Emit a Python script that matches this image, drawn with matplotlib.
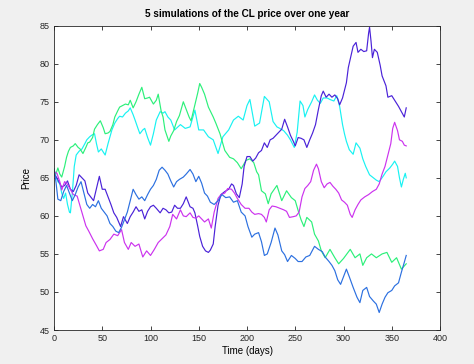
import matplotlib.pyplot as plt

plt.rcParams['font.family'] = ['Liberation Sans', 'DejaVu Sans']

# simulated CL price paths, (day, price)
green_t = [0, 2, 4, 6, 8, 11, 13, 15, 17, 20,
           22, 25, 27, 30, 33, 35, 37, 40, 42, 45,
           48, 51, 53, 56, 58, 61, 63, 66, 68, 71,
           74, 77, 79, 82, 85, 88, 91, 94, 97, 99,
           103, 106, 108, 111, 113, 115, 119, 121, 124, 127,
           130, 134, 137, 140, 142, 146, 149, 151, 153, 156,
           160, 165, 168, 172, 177, 182, 186, 190, 194, 199,
           203, 207, 210, 212, 215, 219, 222, 225, 231, 236,
           241, 246, 250, 253, 256, 259, 262, 267, 270, 274,
           277, 281, 286, 291, 295, 300, 307, 312, 317, 320,
           324, 329, 334, 340, 345, 350, 355, 360, 365]
green_p = [66.0, 65.5, 66.3, 65.5, 65.1, 66.5, 67.7, 68.5, 69.0, 69.2,
           69.5, 69.0, 68.8, 68.2, 69.0, 69.6, 69.7, 70.3, 71.4, 72.0,
           72.5, 71.6, 70.8, 70.9, 71.1, 72.0, 73.0, 73.8, 74.3, 74.5,
           74.7, 74.6, 75.2, 74.2, 75.0, 76.0, 76.9, 75.4, 75.5, 75.6,
           74.7, 75.2, 76.0, 73.8, 73.0, 71.3, 69.8, 70.5, 71.2, 72.4,
           73.2, 75.0, 74.0, 73.0, 72.5, 74.6, 76.2, 77.4, 76.9, 76.0,
           74.3, 73.0, 72.1, 70.8, 68.6, 67.7, 67.5, 67.0, 66.2, 67.3,
           67.5, 67.0, 65.8, 65.4, 63.3, 62.9, 61.6, 62.9, 64.0, 62.0,
           63.3, 62.4, 62.0, 60.7, 59.5, 58.6, 59.8, 59.2, 57.6, 56.7,
           55.4, 54.5, 55.6, 54.5, 53.7, 54.4, 55.6, 54.5, 55.0, 53.5,
           54.5, 55.0, 54.5, 55.0, 55.2, 53.9, 54.5, 53.0, 53.7]

cyan_t = [0, 2, 4, 6, 8, 10, 12, 14, 16, 17,
          19, 21, 23, 26, 29, 32, 34, 37, 39, 42,
          44, 46, 49, 53, 56, 60, 63, 66, 68, 71,
          74, 77, 79, 82, 84, 87, 89, 92, 94, 97,
          100, 103, 106, 110, 113, 115, 118, 121, 125, 131,
          136, 141, 146, 150, 155, 160, 165, 170, 175, 181,
          186, 191, 196, 200, 203, 208, 213, 218, 223, 227,
          231, 234, 238, 242, 245, 249, 252, 255, 258, 260,
          263, 267, 270, 273, 276, 279, 283, 286, 290, 293,
          296, 299, 301, 303, 306, 310, 313, 317, 320, 323,
          327, 331, 334, 337, 341, 344, 348, 351, 353, 356,
          358, 360, 362, 364, 365]
cyan_p = [66.0, 65.2, 64.5, 64.2, 63.0, 62.3, 63.0, 61.5, 60.5, 60.4,
          63.0, 66.5, 68.0, 68.5, 68.8, 69.5, 70.0, 70.4, 70.6, 70.8,
          69.5, 68.4, 68.8, 68.0, 69.5, 71.3, 72.2, 72.8, 73.1, 73.0,
          73.5, 73.8, 74.2, 73.3, 72.6, 71.5, 70.8, 71.3, 71.5, 70.3,
          69.3, 70.8, 72.6, 73.7, 73.5, 73.7, 73.0, 72.6, 71.3, 72.0,
          71.5, 71.7, 73.9, 71.3, 71.3, 70.4, 70.0, 68.2, 70.4, 71.3,
          72.6, 73.1, 72.6, 74.5, 75.3, 71.8, 72.2, 75.7, 75.0, 72.4,
          71.7, 71.5, 71.2, 70.6, 70.0, 69.0, 71.0, 75.1, 74.5, 73.0,
          74.0, 75.0, 75.9, 75.2, 74.8, 75.5, 75.5, 75.3, 75.1, 75.8,
          74.4, 72.0, 70.8, 69.8, 68.7, 68.1, 69.6, 68.9, 67.5, 66.5,
          65.4, 65.0, 64.7, 64.5, 65.2, 65.8, 66.3, 66.8, 67.2, 66.5,
          65.0, 63.8, 64.8, 65.6, 65.0]

violet_t = [0, 3, 5, 8, 11, 14, 17, 20, 23, 26,
            29, 32, 35, 38, 41, 44, 47, 50, 53, 56,
            59, 62, 65, 69, 72, 76, 79, 82, 85, 88,
            91, 94, 97, 100, 103, 106, 110, 113, 116, 119,
            122, 125, 128, 131, 134, 137, 141, 144, 146, 149,
            151, 154, 157, 160, 162, 165, 167, 170, 173, 177,
            181, 184, 186, 189, 192, 195, 197, 200, 203, 206,
            209, 212, 215, 218, 221, 224, 227, 230, 233, 236,
            239, 242, 245, 248, 250, 253, 256, 259, 262, 265,
            268, 271, 274, 277, 279, 282, 285, 288, 291, 294,
            296, 299, 301, 303, 305, 307, 310, 313, 315, 318,
            321, 324, 326, 327, 328.5, 330, 332, 335, 338, 340,
            344, 346, 350, 353, 357, 360, 363, 365]
violet_p = [65.5, 65.0, 64.5, 63.8, 64.0, 64.6, 63.5, 63.2, 64.0, 65.4,
            65.0, 64.6, 63.0, 62.5, 62.0, 63.6, 65.2, 63.5, 63.5, 62.5,
            61.5, 60.4, 59.8, 58.6, 59.9, 59.0, 59.9, 60.5, 61.2, 60.6,
            60.8, 59.6, 60.6, 61.2, 61.4, 61.0, 60.4, 61.0, 60.8, 60.4,
            60.5, 61.4, 61.0, 61.0, 61.6, 62.5, 61.2, 61.0, 60.4, 58.6,
            57.3, 56.0, 55.4, 55.2, 55.5, 56.3, 58.6, 61.4, 62.8, 63.2,
            63.5, 64.2, 64.0, 62.9, 62.4, 64.2, 66.5, 67.8, 67.8, 67.2,
            67.6, 68.3, 68.6, 69.6, 69.0, 70.0, 70.2, 70.6, 71.0, 71.4,
            72.7, 71.7, 70.6, 69.8, 69.2, 70.3, 70.2, 70.0, 69.0, 70.0,
            70.9, 72.0, 74.0, 75.8, 76.4, 75.6, 76.0, 75.6, 75.9, 75.4,
            74.6, 75.5, 76.5, 77.5, 79.5, 80.6, 82.3, 82.8, 81.5, 81.9,
            81.6, 81.7, 84.0, 84.8, 83.0, 80.8, 81.9, 81.5, 79.8, 78.4,
            77.1, 75.6, 75.8, 75.2, 74.4, 73.7, 73.0, 74.2]

magenta_t = [0, 3, 6, 8, 11, 13, 16, 20, 24, 27,
             30, 33, 36, 40, 44, 47, 51, 54, 58, 62,
             66, 70, 73, 77, 80, 84, 88, 92, 96, 100,
             104, 108, 112, 116, 120, 123, 127, 131, 134, 137,
             141, 144, 147, 150, 153, 156, 160, 163, 166, 170,
             173, 177, 180, 184, 187, 190, 194, 198, 202, 205,
             208, 212, 215, 218, 220, 223, 226, 230, 234, 238,
             241, 244, 248, 251, 254, 257, 260, 263, 266, 269,
             272, 274, 277, 280, 283, 286, 289, 292, 295, 298,
             301, 304, 307, 309, 312, 315, 318, 322, 326, 330,
             334, 337, 340, 343, 346, 349, 351, 353, 356, 358,
             361, 363, 365]
magenta_p = [65.8, 65.6, 64.5, 63.4, 64.5, 64.3, 63.7, 62.8, 62.6, 61.3,
             60.0, 58.7, 58.0, 57.0, 56.1, 55.4, 55.6, 56.5, 56.9, 57.6,
             57.4, 58.2, 56.5, 55.6, 56.5, 56.0, 56.3, 54.6, 55.4, 54.8,
             55.6, 56.5, 57.0, 57.5, 58.6, 60.2, 59.6, 60.8, 60.0, 59.9,
             60.4, 59.8, 59.7, 60.0, 59.6, 59.2, 59.6, 58.4, 60.5, 62.3,
             62.8, 63.0, 63.6, 63.5, 63.0, 62.3, 61.5, 61.0, 61.0, 60.5,
             60.2, 60.3, 60.2, 59.8, 59.2, 60.8, 61.3, 61.2, 61.0, 60.8,
             60.6, 59.8, 59.9, 60.0, 60.5, 62.5, 63.6, 64.0, 64.5, 66.0,
             66.8, 66.2, 64.5, 63.7, 64.2, 64.4, 63.9, 63.5, 63.0, 62.1,
             61.8, 61.4, 60.2, 59.8, 60.8, 61.5, 62.1, 62.5, 62.8, 63.2,
             63.5, 64.2, 65.5, 66.5, 68.0, 69.5, 71.5, 72.3, 71.2, 70.0,
             69.8, 69.3, 69.2]

blue_t = [0, 2, 4, 7, 10, 13, 16, 19, 22, 25,
          28, 31, 34, 37, 40, 43, 46, 49, 52, 55,
          58, 61, 64, 67, 70, 73, 76, 79, 82, 85,
          88, 91, 94, 97, 100, 103, 106, 109, 112, 115,
          118, 121, 124, 127, 130, 134, 137, 141, 144, 147,
          150, 153, 156, 159, 162, 166, 170, 174, 178, 182,
          186, 190, 194, 198, 201, 205, 208, 212, 215, 218,
          221, 225, 229, 232, 236, 239, 242, 246, 250, 253,
          257, 261, 265, 270, 274, 278, 281, 285, 288, 291,
          294, 297, 300, 303, 306, 310, 314, 317, 320, 324,
          327, 331, 334, 337, 340, 343, 346, 350, 353, 357,
          360, 363, 365]
blue_p = [66.2, 64.5, 62.2, 62.0, 63.2, 64.0, 63.0, 62.0, 62.8, 63.8,
          64.5, 63.0, 61.5, 61.0, 61.5, 61.2, 62.0, 61.0, 60.5, 60.0,
          59.0, 58.6, 58.0, 57.8, 58.5, 59.5, 60.5, 62.0, 63.5, 62.8,
          62.2, 62.5, 62.0, 62.8, 63.5, 64.0, 64.8, 66.0, 66.4, 66.0,
          65.5, 64.6, 63.8, 64.5, 64.8, 65.1, 65.5, 66.1, 65.5, 64.5,
          65.2, 64.3, 63.0, 62.6, 61.8, 61.5, 62.0, 62.8, 62.4, 62.5,
          61.8, 62.0, 60.5, 60.0, 58.6, 57.2, 57.6, 57.8, 56.6, 54.8,
          55.0, 56.5, 58.4, 57.5, 55.4, 54.9, 54.0, 54.8, 54.4, 54.0,
          54.0, 54.6, 54.8, 56.0, 55.6, 55.3, 54.6, 54.0, 53.5, 52.8,
          51.6, 51.0, 52.0, 53.0, 52.0, 50.6, 49.3, 48.6, 50.2, 50.6,
          49.4, 48.8, 48.4, 47.3, 48.4, 49.3, 49.9, 50.2, 50.8, 51.2,
          52.6, 53.9, 54.8]

xticks = [0, 50, 100, 150, 200, 250, 300, 350, 400]
yticks = [45, 50, 55, 60, 65, 70, 75, 80, 85]

fig = plt.figure(figsize=(4.74, 3.64), dpi=100, facecolor='#f0f0f0')
ax = fig.add_axes([54/474, 1 - 330/364, 386/474, 304.3/364])

ax.plot(cyan_t, cyan_p, color='#18f2f2', lw=0.85)
ax.plot(green_t, green_p, color='#2cf07a', lw=0.85)
ax.plot(violet_t, violet_p, color='#4a22d8', lw=0.85)
ax.plot(magenta_t, magenta_p, color='#cc33ee', lw=0.85)
ax.plot(blue_t, blue_p, color='#2c70e0', lw=0.85)

ax.set_xlim(0, 400)
ax.set_ylim(45, 85)
ax.set_xticks(xticks)
ax.set_yticks(yticks)
ax.tick_params(direction='in', length=3, width=0.6, labelsize=6.5,
               colors='#262626', top=True, right=True, pad=3)
for s in ax.spines.values():
    s.set_linewidth(0.6)
    s.set_color('#262626')

ax.set_title('5 simulations of the CL price over one year', fontsize=7.2,
             fontweight='bold', pad=6)
ax.set_xlabel('Time (days)', fontsize=7, labelpad=2)
ax.set_ylabel('Price', fontsize=7, labelpad=6)

fig.savefig('out.png', dpi=100, facecolor=fig.get_facecolor())
